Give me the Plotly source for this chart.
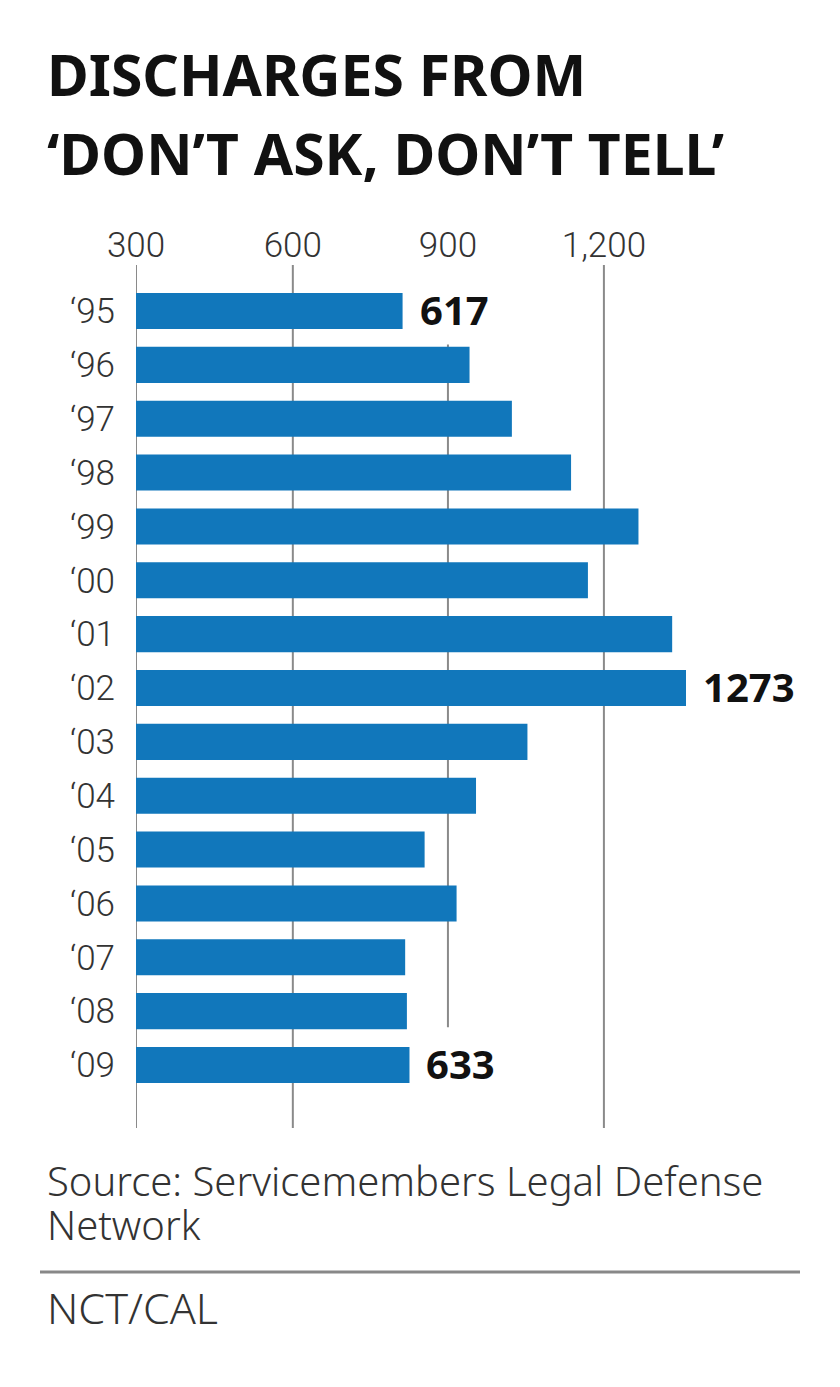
import plotly.graph_objects as go

# ---- data ----
years = ["‘95", "‘96", "‘97", "‘98", "‘99", "‘00", "‘01", "‘02",
         "‘03", "‘04", "‘05", "‘06", "‘07", "‘08", "‘09"]
discharges = [617, 772, 870, 1007, 1163, 1046, 1241, 1273,
              906, 787, 668, 742, 623, 627, 633]
labeled_years = ["‘95", "‘02", "‘09"]
# gridline positions on the bar scale and the labels printed above them
grid_positions = [0, 363, 722, 1083]
grid_labels = ["300", "600", "900", "1,200"]
title_lines = ["DISCHARGES FROM", "‘DON’T ASK, DON’T TELL’"]
source_lines = ["Source: Servicemembers Legal Defense", "Network"]
credit = "NCT/CAL"

W, H = 840, 1387
def px(x):
    return x / W
def py(y):
    return 1 - y / H

BAR = "#1177bb"
GRID = "#8a8a8a"
COND = "Noto Sans Condensed, Noto Sans, DejaVu Sans Condensed, sans-serif"
LIGHT = "Roboto, Lato, sans-serif"

fig = go.Figure()
fig.add_trace(go.Bar(
    x=discharges, y=years, orientation="h",
    marker=dict(color=BAR, line=dict(width=0)),
    width=0.67, hoverinfo="skip",
))

# value labels
for yr, v in zip(years, discharges):
    if yr in labeled_years:
        fig.add_annotation(
            x=v, y=yr, xref="x", yref="y", text=str(v), showarrow=False,
            xanchor="left", yanchor="middle", xshift=15, yshift=1,
            font=dict(family=COND, size=40, color="#111", weight="bold"),
        )

# gridlines (the 900 line stops short of the labelled rows)
for pos, lab in zip(grid_positions, grid_labels):
    if lab == "900":
        fig.add_shape(type="line", xref="x", yref="y", x0=pos, x1=pos,
                      y0=0.62, y1=len(years) - 1 - 0.7,
                      line=dict(color=GRID, width=2), layer="below")
    else:
        fig.add_shape(type="line", xref="x", yref="y domain", x0=pos, x1=pos,
                      y0=0, y1=1, line=dict(color=GRID, width=2), layer="below")

# title
for line, yc in zip(title_lines, [74, 153]):
    fig.add_annotation(
        x=px(45), y=py(yc), xref="paper", yref="paper", text=line,
        showarrow=False, xanchor="left", yanchor="middle",
        font=dict(family=COND, size=57, color="#111", weight="bold"),
    )

# source + credit
for line, yc in zip(source_lines, [1180, 1224]):
    fig.add_annotation(
        x=px(45), y=py(yc), xref="paper", yref="paper", text=line,
        showarrow=False, xanchor="left", yanchor="middle",
        font=dict(family=COND, size=40, color="#333", weight=300),
    )
fig.add_annotation(
    x=px(45), y=py(1307), xref="paper", yref="paper", text=credit,
    showarrow=False, xanchor="left", yanchor="middle",
    font=dict(family=COND, size=43, color="#333", weight=300),
)
fig.add_shape(type="line", xref="paper", yref="paper",
              x0=px(40), x1=px(800), y0=py(1272), y1=py(1272),
              line=dict(color="#888", width=3))

scale = (686 - 136) / 1273.0
xmax = (800 - 136) / scale
fig.update_layout(
    width=W, height=H, margin=dict(l=0, r=0, t=0, b=0),
    paper_bgcolor="white", plot_bgcolor="white", showlegend=False,
    xaxis=dict(
        domain=[px(136), px(800)], range=[0, xmax], side="top",
        automargin=False,
        tickmode="array", tickvals=grid_positions, ticktext=grid_labels,
        showgrid=False, zeroline=False, showline=False,
        ticks="", ticklabelstandoff=0,
        tickfont=dict(family=LIGHT, size=35, color="#333", weight=300),
    ),
    yaxis=dict(
        domain=[py(1128), py(265)], automargin=False,
        categoryorder="array", categoryarray=years,
        range=[len(years) - 1 + 1.17, -0.854],
        showgrid=False, zeroline=False, showline=False,
        ticks="", ticklabelstandoff=20,
        tickfont=dict(family=LIGHT, size=35, color="#333", weight=300),
    ),
)

fig.write_html("out.html")
